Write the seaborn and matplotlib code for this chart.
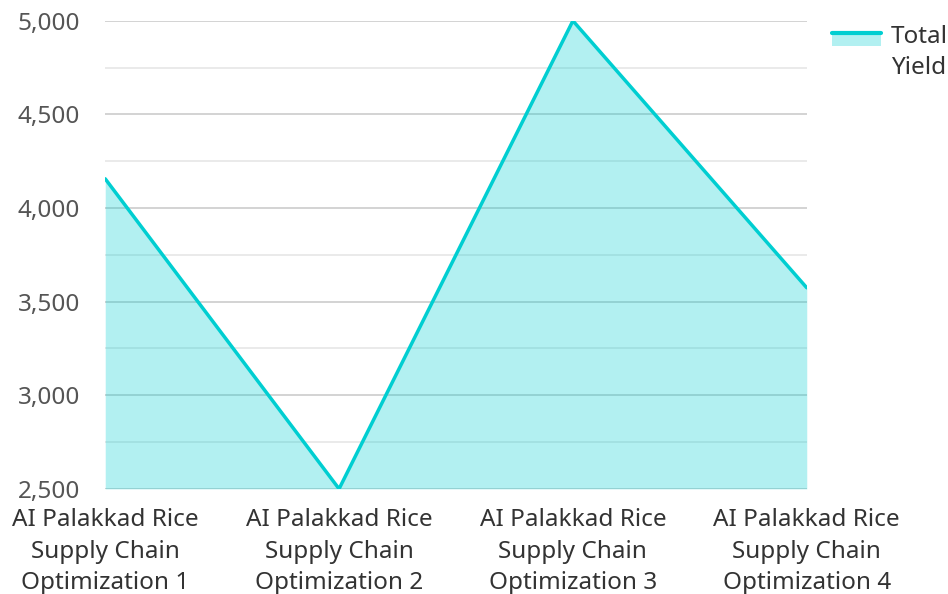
import matplotlib
matplotlib.use("Agg")
import matplotlib.pyplot as plt
import seaborn as sns
import pandas as pd
from matplotlib.ticker import MultipleLocator, FuncFormatter
from matplotlib.patches import Patch, Rectangle
from matplotlib.lines import Line2D
from matplotlib.legend_handler import HandlerBase

# DATA
categories = ["AI Palakkad Rice\nSupply Chain\nOptimization 1",
              "AI Palakkad Rice\nSupply Chain\nOptimization 2",
              "AI Palakkad Rice\nSupply Chain\nOptimization 3",
              "AI Palakkad Rice\nSupply Chain\nOptimization 4"]
total_yield = [4156, 2500, 5000, 3574]
series_name = "Total\nYield"

df = pd.DataFrame({"x": range(len(categories)), "y": total_yield})

sns.set_style("white")
plt.rcParams["font.family"] = ["Noto Sans", "DejaVu Sans"]

line_col = "#00CED1"
FS = 17.5

fig = plt.figure(figsize=(9.48, 5.94), dpi=100)
ax = fig.add_axes([0.111, 0.177, 0.74, 0.788])

# area fill + line
ax.fill_between(df["x"], 2500, df["y"], color=line_col, alpha=0.3, linewidth=0, zorder=2)
sns.lineplot(data=df, x="x", y="y", color=line_col, linewidth=2.5, ax=ax, zorder=3)

ax.set_xlim(0, 3)
ax.set_ylim(2500, 5000)
ax.yaxis.set_major_locator(MultipleLocator(500))
ax.yaxis.set_minor_locator(MultipleLocator(250))
ax.yaxis.set_major_formatter(FuncFormatter(lambda v, p: f"{int(v):,}"))
ax.grid(axis="y", which="major", color="#cccccc", linewidth=1.2, zorder=0)
ax.grid(axis="y", which="minor", color="#e6e6e6", linewidth=1.2, zorder=0)
ax.set_axisbelow(True)

ax.set_xticks(range(len(categories)))
ax.set_xticklabels(categories, fontsize=FS, color="#333333", linespacing=1.4)
ax.tick_params(axis="y", labelsize=FS, labelcolor="#555555", length=0, pad=18)
ax.tick_params(axis="x", length=0, pad=14)
ax.tick_params(axis="y", which="minor", length=0)
ax.set_xlabel("")
ax.set_ylabel("")
for s in ax.spines.values():
    s.set_visible(False)


# legend: thick line over light fill block, aligned with first text line
class AreaHandler(HandlerBase):
    def create_artists(self, legend, orig, xd, yd, w, h, fontsize, trans):
        top = yd + h * 0.5 + fontsize * 0.8
        r = Rectangle((xd, top - fontsize * 0.5), w, fontsize * 0.5, facecolor=line_col,
                      alpha=0.3, linewidth=0, transform=trans)
        l = Line2D([xd, xd + w], [top, top], color=line_col, linewidth=3, transform=trans)
        return [r, l]


leg = fig.legend([Patch()], [series_name], handler_map={Patch: AreaHandler()},
                 loc="upper left", bbox_to_anchor=(0.855, 0.995), frameon=False,
                 fontsize=FS, handlelength=2.0, handletextpad=0.4, labelcolor="#333333")
leg.get_texts()[0].set_linespacing(1.4)

fig.savefig("out.png", dpi=100)
